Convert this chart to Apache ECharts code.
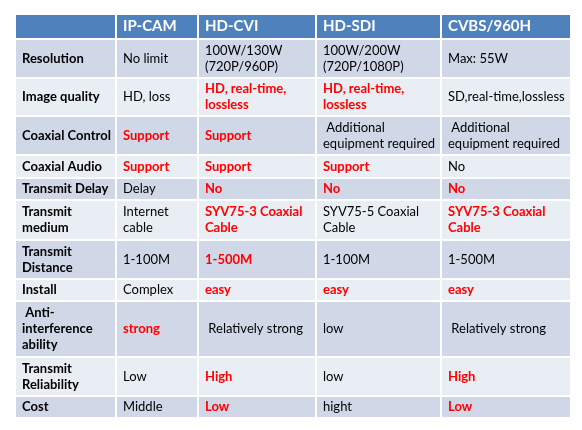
<!DOCTYPE html>
<html><head><meta charset="utf-8">
<script src="https://cdn.jsdelivr.net/npm/echarts@6/dist/echarts.min.js"></script>
<style>html,body{margin:0;padding:0;background:#fff}#c{width:582px;height:430px}</style>
</head><body><div id="c"></div>
<script>
// Data (cells starting with "*" are highlighted in red bold)
var headers = ["", "IP-CAM", "HD-CVI", "HD-SDI", "CVBS/960H"];
var rowLabels = ["Resolution","Image quality","Coaxial Control","Coaxial Audio","Transmit Delay","Transmit\nmedium","Transmit\nDistance","Install"," Anti-\ninterference\nability","Transmit\nReliability","Cost"];
var ipcam = ["No limit","HD, loss","*Support","*Support","Delay","Internet\ncable","1-100M","Complex","*strong","Low","Middle"];
var hdcvi = ["100W/130W\n(720P/960P)","*HD, real-time,\nlossless","*Support","*Support","*No","*SYV75-3 Coaxial\nCable","*1-500M","*easy"," Relatively strong","*High","*Low"];
var hdsdi = ["100W/200W\n(720P/1080P)","*HD, real-time,\nlossless"," Additional\nequipment required","*Support","*No","SYV75-5 Coaxial\nCable","1-100M","*easy","low","low","hight"];
var cvbs = ["Max: 55W","SD,real-time,lossless"," Additional\nequipment required","No","*No","*SYV75-3 Coaxial\nCable","1-500M","*easy"," Relatively strong","*High","*Low"];

// Layout
var colX = [16,117,199,317,442,572];
var rowY = [15,40,79,117,156,179,201,241,280,302,358,397,419];
var gap = 2;
var els = [];
var cols = [rowLabels, ipcam, hdcvi, hdsdi, cvbs];
for (var r = 0; r < rowY.length-1; r++) {
  for (var c = 0; c < 5; c++) {
    var x0 = colX[c], x1 = colX[c+1]-gap, y0 = rowY[r], y1 = rowY[r+1]-gap;
    var fill = r === 0 ? '#4f81bd' : (r % 2 === 1 ? '#d0d8e8' : '#e9edf4');
    els.push({type:'rect', shape:{x:x0,y:y0,width:x1-x0,height:y1-y0}, style:{fill:fill}});
    var txt, color = '#000', bold = false;
    if (r === 0) { txt = headers[c]; color = '#fff'; bold = true; }
    else {
      txt = cols[c][r-1];
      if (c === 0) bold = true;
      if (txt.charAt(0) === '*') { txt = txt.slice(1); color = '#ff0000'; bold = true; }
    }
    els.push({type:'text', x:x0+6, y:(y0+y1)/2, style:{text:txt, fill:color,
      font:(bold?'bold ':'')+(r===0?'15px':'13px')+' Lato, "Open Sans", sans-serif',
      lineHeight:16, verticalAlign:'middle', align:'left'}});
  }
}
var chart = echarts.init(document.getElementById('c'));
chart.setOption({graphic: els});
</script></body></html>
